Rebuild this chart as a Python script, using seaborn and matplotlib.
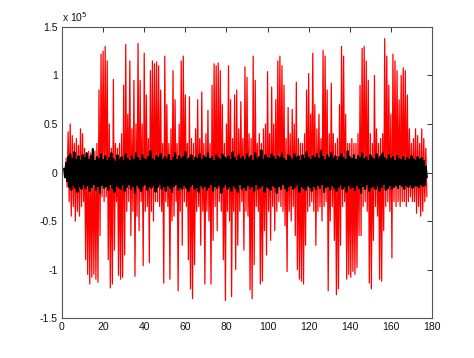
import numpy as np
import pandas as pd
import matplotlib
matplotlib.use("Agg")
import matplotlib.pyplot as plt
import seaborn as sns


# =========================================================
# DATA (units of 1e5)
# =========================================================

# red signal, one sample per second from t=2 to t=177
red_t = list(range(2, 178))

red_top = [
    0.15, 0.42, 0.5, 0.38, 0.3, 0.35, 0.28, 0.45, 0.4, 0.25,
    0.2, 0.22, 0.2, 0.25, 0.22, 0.3, 0.85, 1.22, 1.25, 1.3,
    1.15, 0.5, 0.25, 0.96, 0.3, 0.25, 0.3, 0.4, 0.9, 1.32,
    0.6, 1.15, 0.45, 0.95, 0.5, 1.33, 0.95, 0.5, 1.23, 0.8,
    0.35, 1.05, 1.15, 1.12, 1.14, 1.1, 0.85, 0.3, 1.2, 0.7,
    0.3, 0.45, 1.05, 0.75, 0.3, 0.5, 1.15, 1.2, 0.8, 0.3,
    0.78, 0.35, 0.3, 0.45, 0.75, 0.35, 0.83, 0.3, 0.4, 0.64,
    0.3, 0.9, 1.12, 1.1, 1.13, 1.05, 0.7, 0.3, 0.5, 1.1,
    0.75, 0.35, 0.8, 0.85, 0.45, 0.73, 0.35, 1.09, 0.98, 0.4,
    0.35, 1.2, 0.95, 0.3, 0.4, 0.3, 0.45, 0.5, 1.04, 0.4,
    0.88, 0.5, 0.75, 1.15, 1.2, 1.1, 0.9, 0.35, 0.67, 0.4,
    0.65, 0.5, 0.93, 0.35, 0.3, 0.3, 0.4, 0.85, 1.02, 0.6,
    1.23, 0.7, 0.45, 0.6, 0.35, 1.26, 1.2, 0.85, 0.4, 0.92,
    0.4, 0.3, 0.35, 0.7, 1.3, 1.2, 0.6, 0.3, 0.3, 0.35,
    0.3, 0.3, 0.4, 0.9, 1.28, 1.3, 1.15, 0.95, 0.4, 0.3,
    1.0, 0.45, 0.3, 0.35, 0.4, 1.38, 1.2, 0.9, 0.6, 1.22,
    1.15, 1.05, 0.75, 1.0, 1.08, 1.05, 0.8, 0.45, 0.3, 0.35,
    0.45, 0.38, 0.3, 0.45, 0.35, 0.25,
]

red_bottom = [
    0.15, 0.3, 0.45, 0.35, 0.5, 0.4, 0.45, 0.35, 0.3, 0.9,
    1.05, 1.15, 1.08, 1.05, 1.1, 1.13, 0.65, 0.25, 0.3, 0.25,
    0.9, 1.19, 1.15, 0.8, 0.3, 1.06, 1.1, 1.08, 0.85, 0.4,
    0.3, 0.65, 0.4, 1.07, 0.45, 0.6, 0.3, 0.96, 0.4, 0.35,
    0.93, 0.4, 0.5, 0.3, 0.3, 0.35, 0.4, 1.14, 0.3, 0.35,
    1.1, 0.5, 0.45, 0.3, 1.22, 0.4, 0.75, 0.3, 0.35, 0.9,
    1.2, 1.3, 0.95, 0.4, 0.35, 0.75, 0.4, 1.15, 0.4, 0.5,
    1.15, 0.7, 0.35, 0.6, 0.3, 0.4, 0.9, 1.32, 0.4, 0.5,
    1.28, 0.4, 1.0, 0.75, 0.4, 0.3, 0.8, 0.4, 0.45, 1.21,
    1.3, 0.95, 0.35, 0.4, 1.15, 1.12, 0.6, 0.85, 0.4, 0.7,
    0.35, 0.6, 0.4, 0.3, 0.35, 0.4, 0.55, 1.02, 0.4, 0.5,
    0.35, 0.65, 1.0, 1.1, 1.12, 1.15, 0.75, 0.4, 0.35, 0.3,
    0.4, 0.75, 0.4, 0.35, 0.5, 0.35, 0.3, 1.22, 0.5, 0.35,
    0.7, 1.26, 1.2, 0.75, 0.35, 0.3, 1.1, 1.05, 1.08, 1.02,
    1.05, 0.98, 0.65, 0.65, 0.35, 0.3, 0.4, 1.14, 1.2, 0.7,
    0.35, 0.45, 1.1, 1.12, 0.6, 0.35, 0.3, 0.4, 0.88, 0.3,
    0.35, 0.3, 0.35, 0.3, 0.3, 0.35, 0.3, 0.25, 0.3, 0.3,
    0.42, 0.35, 0.45, 0.4, 0.3, 0.25,
]

# black signal, one sample per second from t=1 to t=177
black_t = list(range(1, 178))

black_top = [
    0.04, 0.10, 0.16, 0.19, 0.14, 0.21, 0.13, 0.17, 0.12, 0.18,
    0.15, 0.2, 0.13, 0.17, 0.24, 0.12, 0.16, 0.14, 0.19, 0.13,
    0.17, 0.12, 0.15, 0.2, 0.14, 0.11, 0.18, 0.13, 0.16, 0.12,
    0.19, 0.14, 0.12, 0.17, 0.13, 0.2, 0.15, 0.12, 0.18, 0.14,
    0.13, 0.16, 0.22, 0.14, 0.12, 0.17, 0.15, 0.19, 0.13, 0.16,
    0.14, 0.18, 0.12, 0.15, 0.2, 0.13, 0.17, 0.14, 0.16, 0.21,
    0.13, 0.15, 0.18, 0.12, 0.16, 0.14, 0.19, 0.13, 0.17, 0.15,
    0.2, 0.14, 0.16, 0.12, 0.18, 0.15, 0.13, 0.19, 0.16, 0.14,
    0.17, 0.13, 0.21, 0.15, 0.12, 0.18, 0.14, 0.16, 0.13, 0.19,
    0.15, 0.17, 0.12, 0.2, 0.14, 0.16, 0.23, 0.13, 0.18, 0.15,
    0.14, 0.19, 0.16, 0.13, 0.17, 0.15, 0.2, 0.14, 0.12, 0.18,
    0.16, 0.13, 0.19, 0.15, 0.17, 0.12, 0.18, 0.14, 0.21, 0.15,
    0.13, 0.17, 0.15, 0.19, 0.14, 0.22, 0.16, 0.13, 0.18, 0.15,
    0.2, 0.14, 0.17, 0.12, 0.16, 0.19, 0.15, 0.13, 0.22, 0.16,
    0.14, 0.18, 0.13, 0.17, 0.15, 0.2, 0.14, 0.16, 0.12, 0.18,
    0.15, 0.13, 0.19, 0.14, 0.17, 0.2, 0.15, 0.13, 0.18, 0.14,
    0.16, 0.12, 0.17, 0.14, 0.13, 0.16, 0.12, 0.15, 0.13, 0.17,
    0.14, 0.12, 0.16, 0.13, 0.15, 0.12, 0.06,
]

black_bottom = [
    0.05, 0.09, 0.15, 0.18, 0.13, 0.16, 0.2, 0.14, 0.17, 0.12,
    0.16, 0.13, 0.19, 0.15, 0.12, 0.18, 0.14, 0.21, 0.13, 0.16,
    0.14, 0.18, 0.12, 0.16, 0.2, 0.13, 0.15, 0.17, 0.12, 0.19,
    0.15, 0.12, 0.17, 0.14, 0.21, 0.13, 0.16, 0.19, 0.14, 0.12,
    0.18, 0.14, 0.16, 0.13, 0.2, 0.15, 0.12, 0.17, 0.14, 0.19,
    0.13, 0.16, 0.2, 0.14, 0.12, 0.18, 0.15, 0.17, 0.13, 0.16,
    0.19, 0.14, 0.12, 0.17, 0.15, 0.2, 0.13, 0.16, 0.14, 0.18,
    0.15, 0.12, 0.19, 0.14, 0.16, 0.13, 0.21, 0.15, 0.12, 0.17,
    0.14, 0.19, 0.13, 0.16, 0.2, 0.12, 0.17, 0.15, 0.18, 0.13,
    0.16, 0.14, 0.19, 0.12, 0.17, 0.15, 0.13, 0.2, 0.14, 0.16,
    0.18, 0.13, 0.15, 0.21, 0.14, 0.17, 0.12, 0.16, 0.19, 0.14,
    0.13, 0.17, 0.15, 0.12, 0.2, 0.14, 0.16, 0.18, 0.13, 0.15,
    0.19, 0.14, 0.17, 0.13, 0.16, 0.12, 0.2, 0.15, 0.14, 0.18,
    0.13, 0.16, 0.19, 0.15, 0.12, 0.17, 0.14, 0.2, 0.13, 0.16,
    0.15, 0.18, 0.13, 0.16, 0.21, 0.14, 0.17, 0.12, 0.19, 0.15,
    0.14, 0.17, 0.13, 0.19, 0.15, 0.12, 0.18, 0.16, 0.13, 0.17,
    0.15, 0.13, 0.16, 0.12, 0.14, 0.17, 0.13, 0.15, 0.12, 0.16,
    0.14, 0.13, 0.15, 0.12, 0.14, 0.13, 0.05,
]

x_ticks = [0, 20, 40, 60, 80, 100, 120, 140, 160, 180]
y_ticks = [-1.5, -1, -0.5, 0, 0.5, 1, 1.5]


# =========================================================
# BUILD LONG TABLES (up / down alternating samples)
# =========================================================

def waveform(t, top, bottom):

    xs = []
    ys = []

    for ti, up, down in zip(t, top, bottom):
        xs += [ti, ti + 0.5]
        ys += [up, -down]

    return pd.DataFrame({"t": xs, "value": ys})


red_df = waveform(red_t, red_top, red_bottom)
black_df = waveform(black_t, black_top, black_bottom)


# =========================================================
# PLOT
# =========================================================

sns.set_style("white")
plt.rcParams["font.family"] = ["Liberation Sans", "DejaVu Sans"]

fig = plt.figure(figsize=(4.74, 3.58), dpi=100)
ax = fig.add_axes([0.1308, 0.1117, 0.7806, 0.8129])

sns.lineplot(
    data=red_df, x="t", y="value",
    color="#ff0000", linewidth=0.9,
    estimator=None, sort=False, ax=ax
)

sns.lineplot(
    data=black_df, x="t", y="value",
    color="black", linewidth=1.5,
    estimator=None, sort=False, ax=ax
)

ax.set_xlim(0, 180)
ax.set_ylim(-1.5, 1.5)

ax.set_xticks(x_ticks)
ax.set_xticklabels([f"{v:g}" for v in x_ticks])
ax.set_yticks(y_ticks)
ax.set_yticklabels([f"{v:g}" for v in y_ticks])

ax.set_xlabel("")
ax.set_ylabel("")

ax.tick_params(
    direction="in", length=3.5, width=0.6,
    top=True, right=True, labelsize=7.5, pad=3,
    colors="#111111"
)

for side in ax.spines.values():
    side.set_visible(True)
    side.set_color("#555555")
    side.set_linewidth(0.8)

ax.text(
    0.0, 1.012, r"x 10$^{5}$",
    transform=ax.transAxes,
    fontsize=7.5, ha="left", va="bottom", color="#111111"
)

fig.savefig("out.png", dpi=100)
plt.close(fig)
